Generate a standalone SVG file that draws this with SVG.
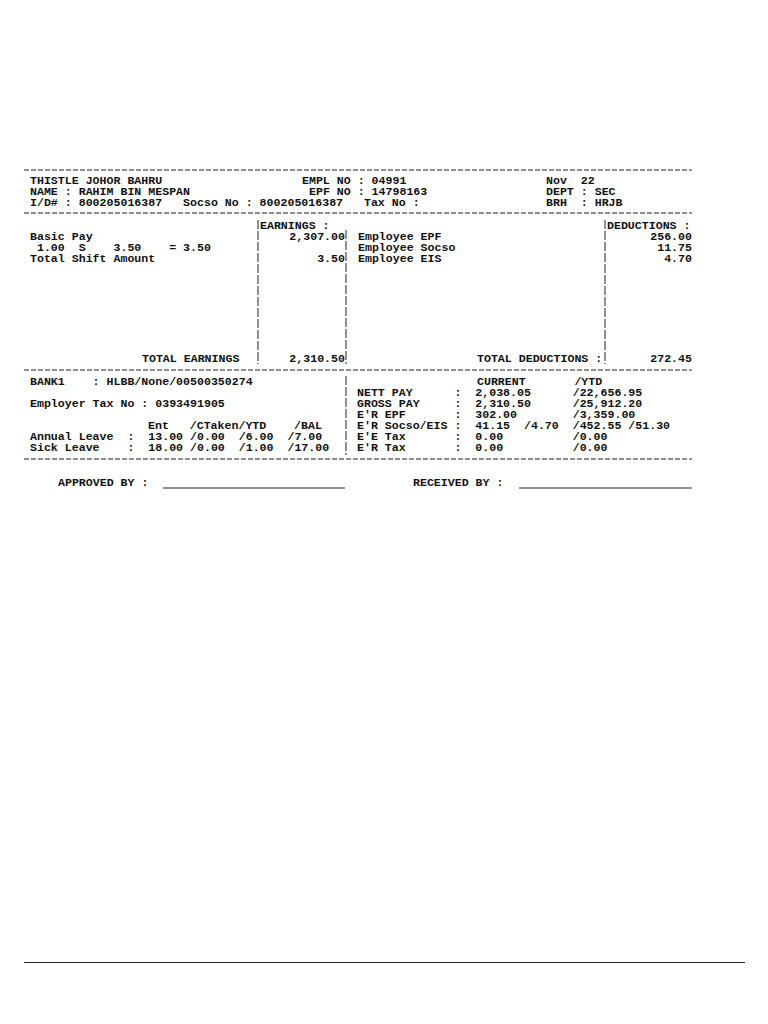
<svg xmlns="http://www.w3.org/2000/svg" width="768" height="1024" viewBox="0 0 768 1024">
<style>
text{font-family:"Liberation Mono","Courier New",monospace;font-weight:bold;font-size:11.6px;fill:#111;white-space:pre}
.r{text-anchor:end}
.d{stroke:#222;stroke-width:1.2;stroke-dasharray:5,2}
.p{stroke:#222;stroke-width:1;stroke-dasharray:9,2}
</style>
<rect width="768" height="1024" fill="#fff"/>
<g id="rules">
<line class="d" x1="24" y1="170" x2="692" y2="170"/>
<line class="d" x1="24" y1="213" x2="692" y2="213"/>
<line class="d" x1="24" y1="370" x2="692" y2="370"/>
<line class="d" x1="24" y1="459" x2="692" y2="459"/>
<line class="p" x1="258" y1="220" x2="258" y2="364"/>
<line class="p" x1="346" y1="230" x2="346" y2="364"/>
<line class="p" x1="605" y1="220" x2="605" y2="364"/>
<line class="p" x1="346" y1="376" x2="346" y2="455"/>
<line stroke="#222" x1="163" y1="488" x2="345" y2="488"/>
<line stroke="#222" x1="519" y1="488" x2="692" y2="488"/>
<line stroke="#222" x1="24" y1="962.5" x2="745" y2="962.5"/>
</g>
<g id="header" xml:space="preserve">
<text x="30" y="184">THISTLE JOHOR BAHRU</text>
<text x="302" y="184">EMPL NO : 04991</text>
<text x="546" y="184">Nov  22</text>
<text x="30" y="195">NAME : RAHIM BIN MESPAN</text>
<text x="309" y="195">EPF NO : 14798163</text>
<text x="546" y="195">DEPT : SEC</text>
<text x="30" y="206">I/D# : 800205016387   Socso No : 800205016387   Tax No :</text>
<text x="546" y="206">BRH  : HRJB</text>
</g>
<g id="earnings" xml:space="preserve">
<text x="260" y="229">EARNINGS :</text>
<text x="30" y="240">Basic Pay</text>
<text class="r" x="345" y="240">2,307.00</text>
<text x="30" y="251"> 1.00  S    3.50    = 3.50</text>
<text x="30" y="262">Total Shift Amount</text>
<text class="r" x="345" y="262">3.50</text>
<text x="142" y="362">TOTAL EARNINGS</text>
<text class="r" x="345" y="362">2,310.50</text>
</g>
<g id="deductions" xml:space="preserve">
<text x="358" y="240">Employee EPF</text>
<text x="358" y="251">Employee Socso</text>
<text x="358" y="262">Employee EIS</text>
<text x="607" y="229">DEDUCTIONS :</text>
<text class="r" x="692" y="240">256.00</text>
<text class="r" x="692" y="251">11.75</text>
<text class="r" x="692" y="262">4.70</text>
<text x="477" y="362">TOTAL DEDUCTIONS :</text>
<text class="r" x="692" y="362">272.45</text>
</g>
<g id="bank" xml:space="preserve">
<text x="30" y="385">BANK1    : HLBB/None/00500350274</text>
<text x="30" y="407">Employer Tax No : 0393491905</text>
<text x="148" y="429">Ent   /CTaken/YTD    /BAL</text>
<text x="30" y="440">Annual Leave  :  13.00 /0.00  /6.00  /7.00</text>
<text x="30" y="451">Sick Leave    :  18.00 /0.00  /1.00  /17.00</text>
</g>
<g id="pay" xml:space="preserve">
<text x="477" y="385">CURRENT       /YTD</text>
<text x="357" y="396">NETT PAY      :  2,038.05      /22,656.95</text>
<text x="357" y="407">GROSS PAY     :  2,310.50      /25,912.20</text>
<text x="357" y="418">E'R EPF       :  302.00        /3,359.00</text>
<text x="357" y="429">E'R Socso/EIS :  41.15  /4.70  /452.55 /51.30</text>
<text x="357" y="440">E'E Tax       :  0.00          /0.00</text>
<text x="357" y="451">E'R Tax       :  0.00          /0.00</text>
</g>
<g id="sign" xml:space="preserve">
<text x="58" y="486">APPROVED BY :</text>
<text x="413" y="486">RECEIVED BY :</text>
</g>
</svg>
